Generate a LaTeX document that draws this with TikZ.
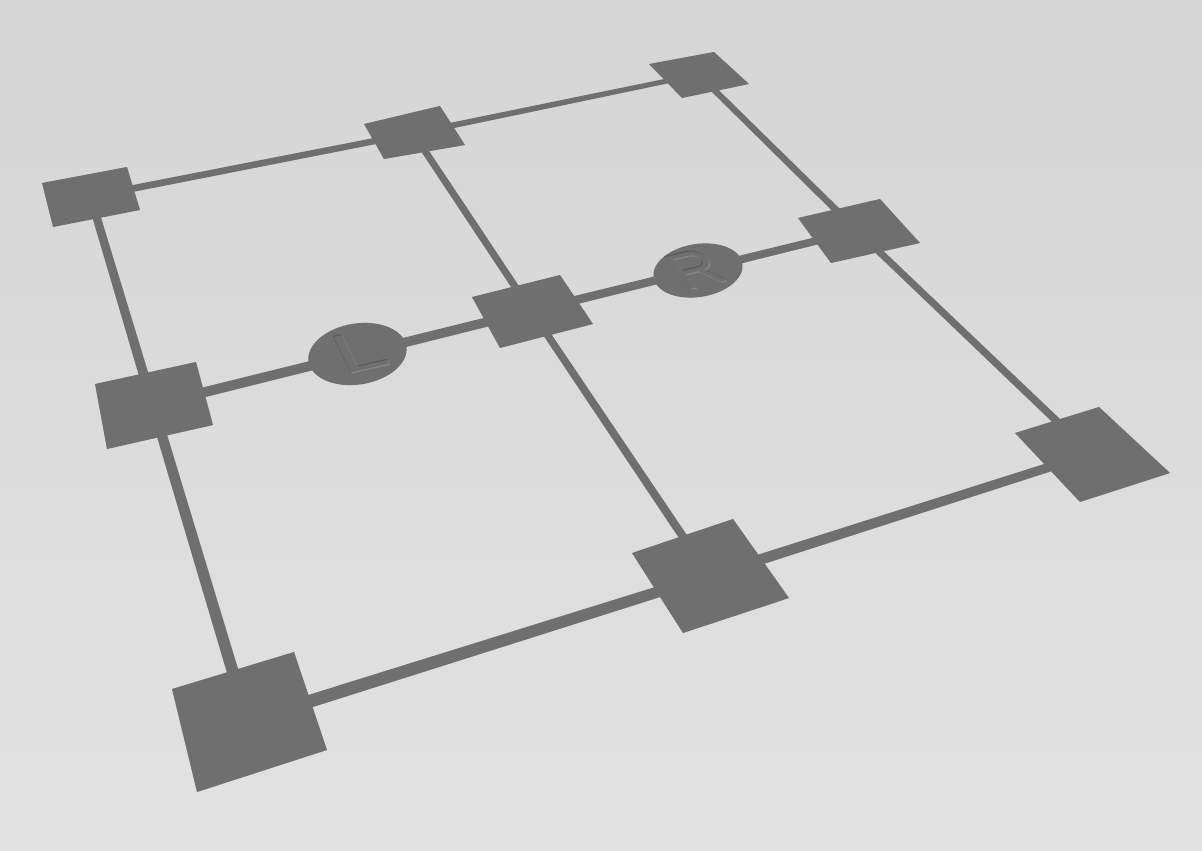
\documentclass[tikz,border=0pt]{standalone}
\usepackage{fontspec}
\newfontfamily\lettfont{Liberation Sans}
\usetikzlibrary{calc}
\definecolor{padc}{HTML}{6F6F6F}
\definecolor{bgtop}{HTML}{D5D5D5}
\definecolor{bgbot}{HTML}{E2E2E2}
\definecolor{engdark}{HTML}{585858}
\definecolor{englight}{HTML}{8A8A8A}
\tikzset{
  lett/.style={inner sep=0pt, transform shape, font=\lettfont\fontsize{40}{40}\selectfont},
}
% tapered bar between two named points: #1 a, #2 b, #3 half width at a, #4 half width at b
\newcommand\barq[4]{($(#1)!#3pt!90:(#2)$) -- ($(#2)!#4pt!-90:(#1)$) -- ($(#2)!#4pt!90:(#1)$) -- ($(#1)!#3pt!-90:(#2)$) -- cycle}
\newcommand\allshapes[1]{%
  \fill[#1] (TLa) -- (TLb) -- (TLc) -- (TLd) -- cycle;
  \fill[#1] (TMa) -- (TMb) -- (TMc) -- (TMd) -- cycle;
  \fill[#1] (TRa) -- (TRb) -- (TRc) -- (TRd) -- cycle;
  \fill[#1] (MLa) -- (MLb) -- (MLc) -- (MLd) -- cycle;
  \fill[#1] (Ca) -- (Cb) -- (Cc) -- (Cd) -- cycle;
  \fill[#1] (MRa) -- (MRb) -- (MRc) -- (MRd) -- cycle;
  \fill[#1] (BLa) -- (BLb) -- (BLc) -- (BLd) -- cycle;
  \fill[#1] (BMa) -- (BMb) -- (BMc) -- (BMd) -- cycle;
  \fill[#1] (BRa) -- (BRb) -- (BRc) -- (BRd) -- cycle;
  \fill[#1] \barq{TL}{TM}{3.4}{3.1};
  \fill[#1] \barq{TM}{TR}{3.0}{2.4};
  \fill[#1] \barq{ML}{C}{5.0}{4.6};
  \fill[#1] \barq{C}{MR}{4.3}{3.7};
  \fill[#1] \barq{BL}{BM}{6.6}{5.4};
  \fill[#1] \barq{BM}{BR}{5.4}{4.4};
  \fill[#1] \barq{TL}{ML}{4.0}{5.0};
  \fill[#1] \barq{ML}{BL}{5.0}{6.0};
  \fill[#1] \barq{TM}{C}{3.4}{3.6};
  \fill[#1] \barq{C}{BM}{3.6}{4.2};
  \fill[#1] \barq{TR}{MR}{3.0}{3.4};
  \fill[#1] \barq{MR}{BR}{3.4}{3.8};
  \fill[#1, rotate around={9:(Lc)}] (Lc) ellipse [x radius=49.5pt, y radius=30.5pt];
  \fill[#1, rotate around={9:(Rc)}] (Rc) ellipse [x radius=45pt, y radius=26.5pt];
}
\begin{document}
\begin{tikzpicture}[x=1pt,y=-1pt]
\useasboundingbox (0,0) rectangle (1202,851);
\shade[top color=bgtop, bottom color=bgbot] (0,0) rectangle (1202,851);
% pad corners
\coordinate (TLa) at (42,183);  \coordinate (TLb) at (127,167); \coordinate (TLc) at (140,210); \coordinate (TLd) at (53,227);
\coordinate (TMa) at (364,124); \coordinate (TMb) at (440,106); \coordinate (TMc) at (465,145); \coordinate (TMd) at (384,159);
\coordinate (TRa) at (649,64);  \coordinate (TRb) at (714,52);  \coordinate (TRc) at (749,84);  \coordinate (TRd) at (682,98);
\coordinate (MLa) at (95,384);  \coordinate (MLb) at (196,362); \coordinate (MLc) at (213,425); \coordinate (MLd) at (107,449);
\coordinate (Ca) at (472,297);  \coordinate (Cb) at (560,275);  \coordinate (Cc) at (593,324);  \coordinate (Cd) at (500,348);
\coordinate (MRa) at (798,218); \coordinate (MRb) at (880,199); \coordinate (MRc) at (920,243); \coordinate (MRd) at (831,263);
\coordinate (BLa) at (172,689); \coordinate (BLb) at (294,652); \coordinate (BLc) at (327,750); \coordinate (BLd) at (197,792);
\coordinate (BMa) at (632,553); \coordinate (BMb) at (733,519); \coordinate (BMc) at (789,598); \coordinate (BMd) at (683,633);
\coordinate (BRa) at (1015,433);\coordinate (BRb) at (1099,407);\coordinate (BRc) at (1170,473);\coordinate (BRd) at (1080,502);
% pad centres
\coordinate (TL) at (90.5,196.8);
\coordinate (TM) at (413.3,133.5);
\coordinate (TR) at (698.5,74.5);
\coordinate (ML) at (152.8,405);
\coordinate (C)  at (531.3,311);
\coordinate (MR) at (857.3,230.8);
\coordinate (BL) at (247.5,720.8);
\coordinate (BM) at (709.3,575.8);
\coordinate (BR) at (1091,453.8);
\coordinate (Lc) at (357.5,354);
\coordinate (Rc) at (698,270.5);
% soft shadows
\foreach \dx/\dy in {-2/-1,-4/-2,-6/-3}{
  \begin{scope}[transparency group, opacity=0.045, shift={(\dx,\dy)}]
    \allshapes{black}
  \end{scope}
}
% the network
\allshapes{padc}
% engraved letters
\begin{scope}[shift={(Lc)}, shift={(2.5,-3)}]
  \begin{scope}[shift={(-1,-0.8)}, cm={2.17,0.49,-0.63,1.29,(0,0)}]
    \node[lett, text=engdark] (Ld) at (0,0) {L};
  \end{scope}
  \begin{scope}[shift={(1,0.8)}, cm={2.17,0.49,-0.63,1.29,(0,0)}]
    \node[lett, text=englight] (Ll) at (0,0) {L};
  \end{scope}
  \begin{scope}[cm={2.17,0.49,-0.63,1.29,(0,0)}]
    \node[lett, text=padc] (Lt) at (0,0) {L};
  \end{scope}
\end{scope}
\begin{scope}[shift={(Rc)}, shift={(-2.5,-1)}]
  \begin{scope}[shift={(-1,-0.8)}, cm={1.52,0.36,-0.94,1.15,(0,0)}]
    \node[lett, text=engdark] (Rd) at (0,0) {R};
  \end{scope}
  \begin{scope}[shift={(1,0.8)}, cm={1.52,0.36,-0.94,1.15,(0,0)}]
    \node[lett, text=englight] (Rl) at (0,0) {R};
  \end{scope}
  \begin{scope}[cm={1.52,0.36,-0.94,1.15,(0,0)}]
    \node[lett, text=padc] (Rt) at (0,0) {R};
  \end{scope}
\end{scope}
\end{tikzpicture}
\end{document}
